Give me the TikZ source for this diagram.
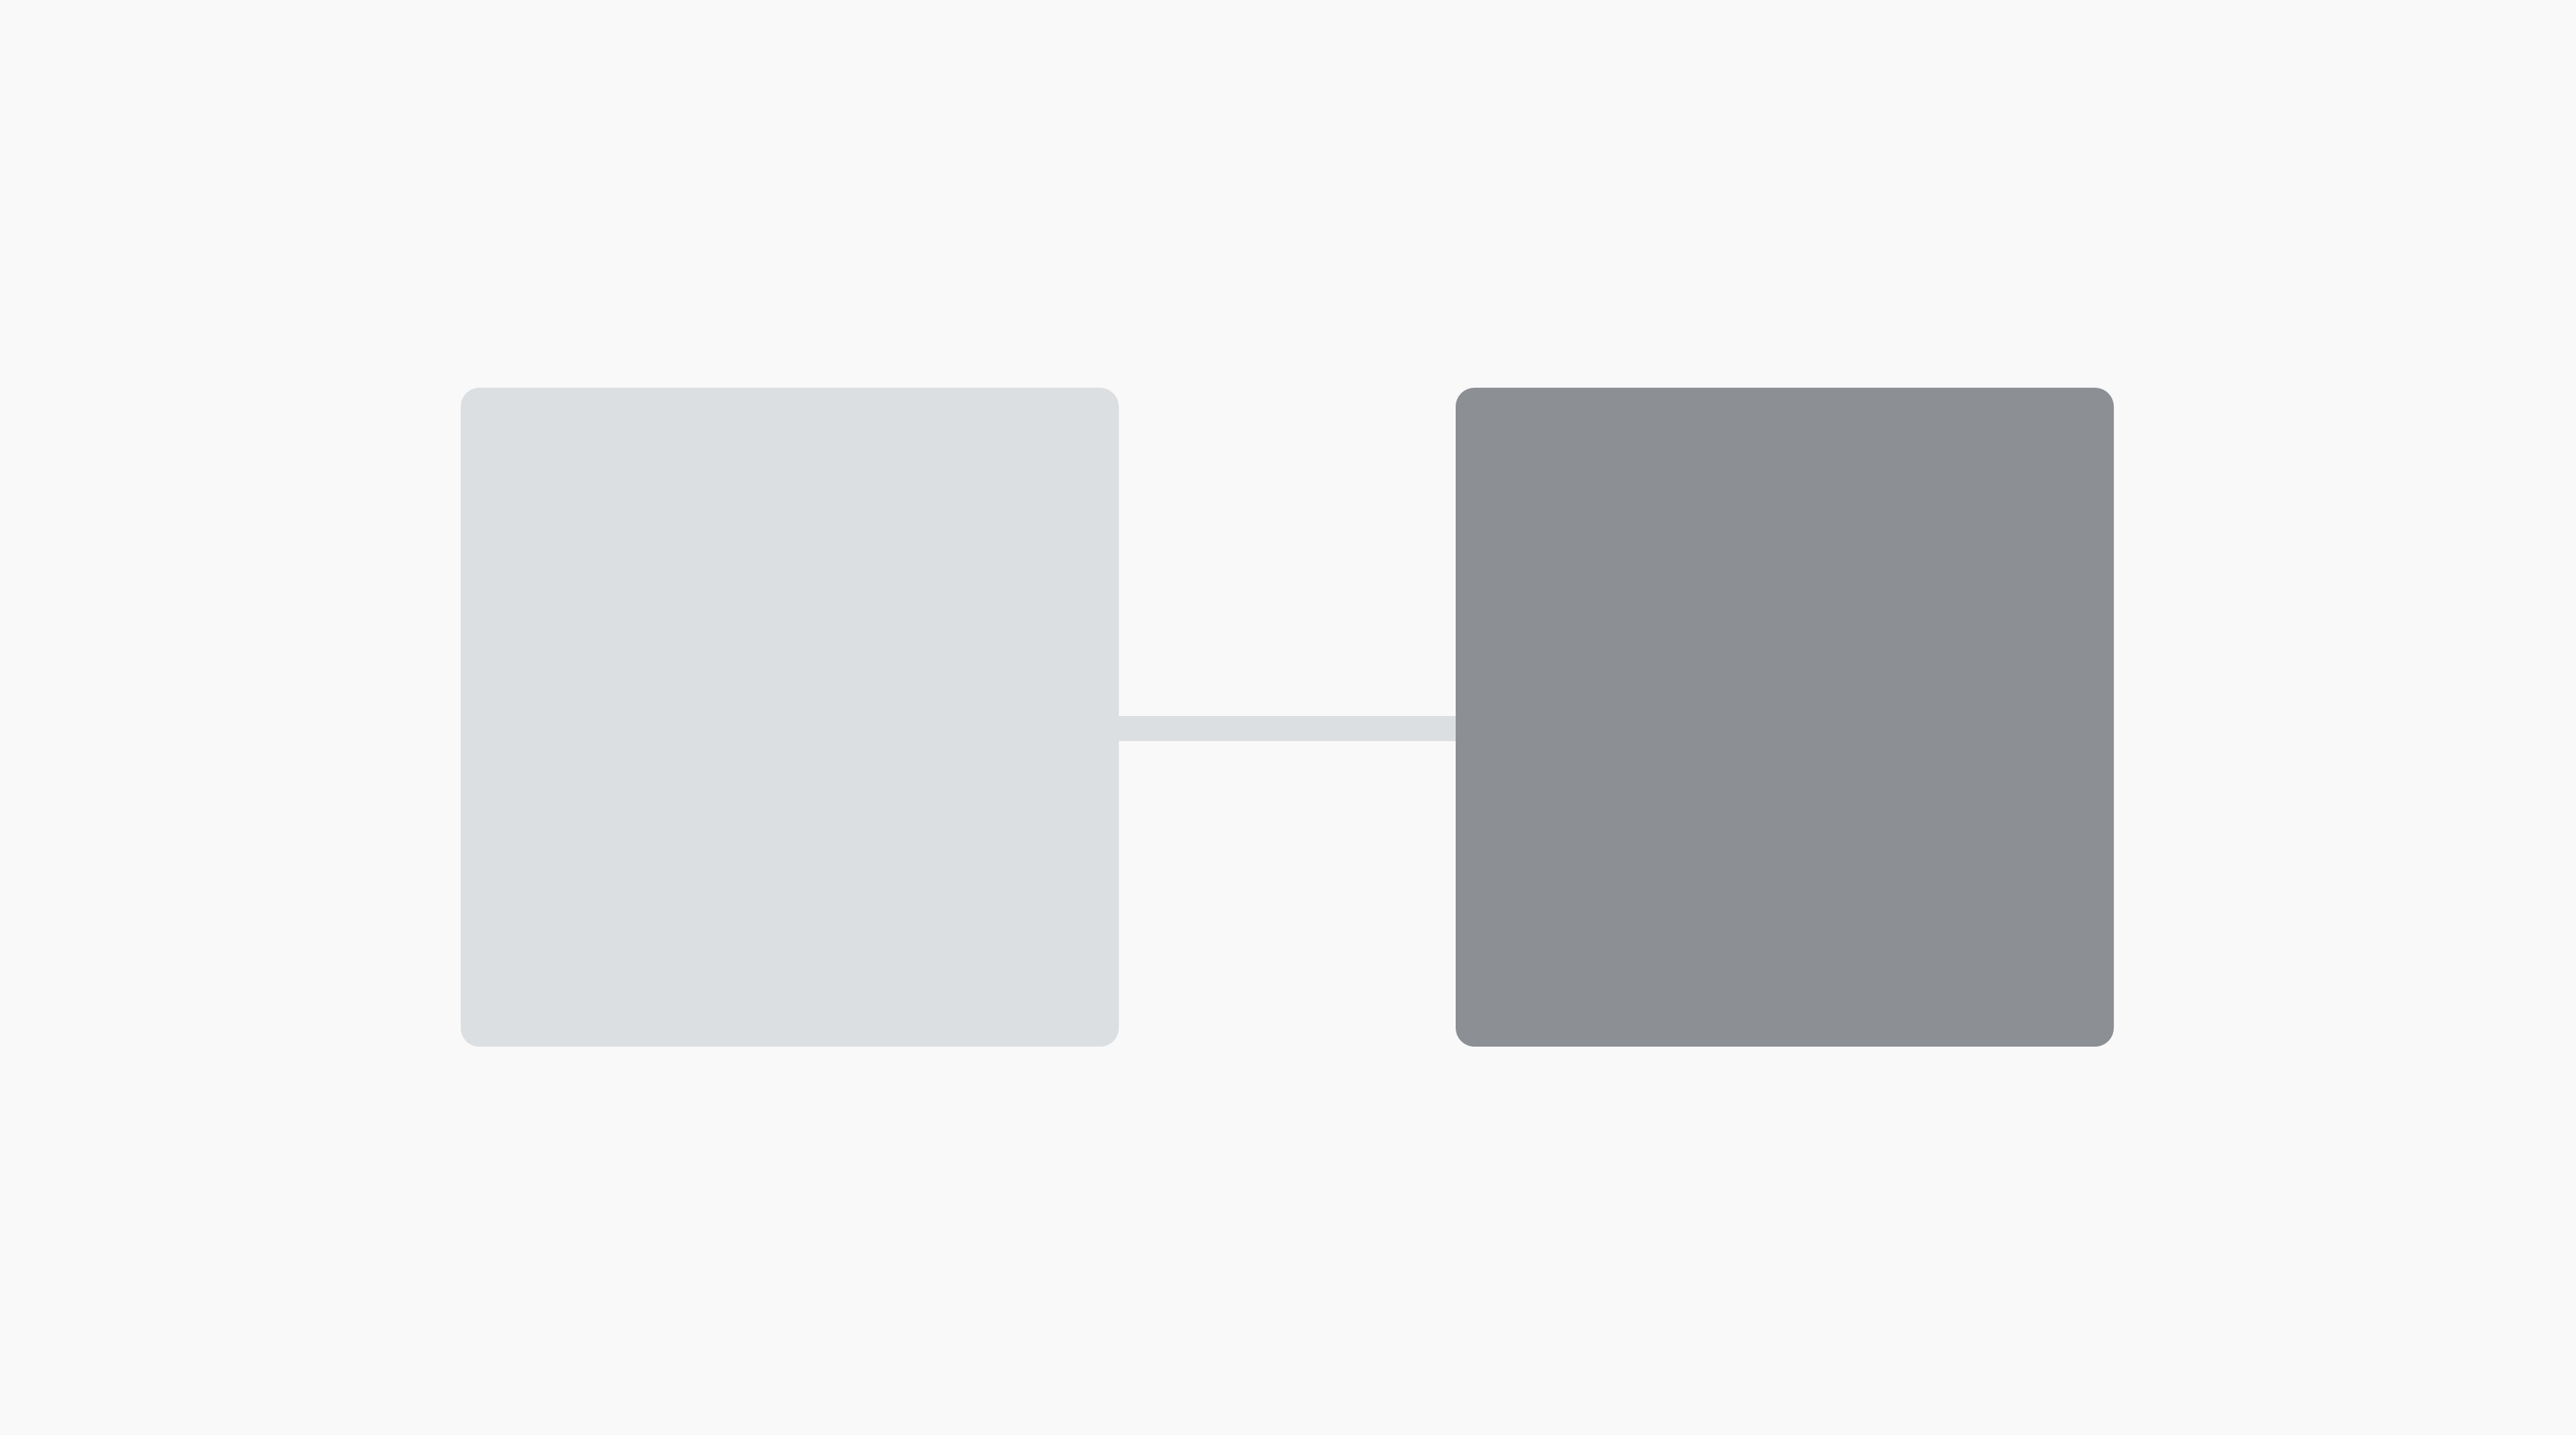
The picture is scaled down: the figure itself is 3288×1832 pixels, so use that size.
\documentclass[tikz,border=0pt]{standalone}
\definecolor{bgc}{HTML}{F9F9F9}
\definecolor{lightbox}{HTML}{DCDFE2}
\definecolor{darkbox}{HTML}{8C9094}
\begin{document}
\begin{tikzpicture}[x=1pt,y=1pt,
  boxnode/.style={rectangle, rounded corners=24pt, inner sep=0pt, minimum width=840pt, minimum height=841pt, draw=none},
  link/.style={draw=lightbox, line width=32pt, line cap=butt}]
\fill[bgc] (0,0) rectangle (3288,1832);
\useasboundingbox (0,0) rectangle (3288,1832);
\node[boxnode, fill=lightbox] (a) at (1008,916.5) {};
\node[boxnode, fill=darkbox] (b) at (2278,916.5) {};
\draw[link] ([yshift=-15pt]a.east) -- ([yshift=-15pt]b.west);
\end{tikzpicture}
\end{document}
